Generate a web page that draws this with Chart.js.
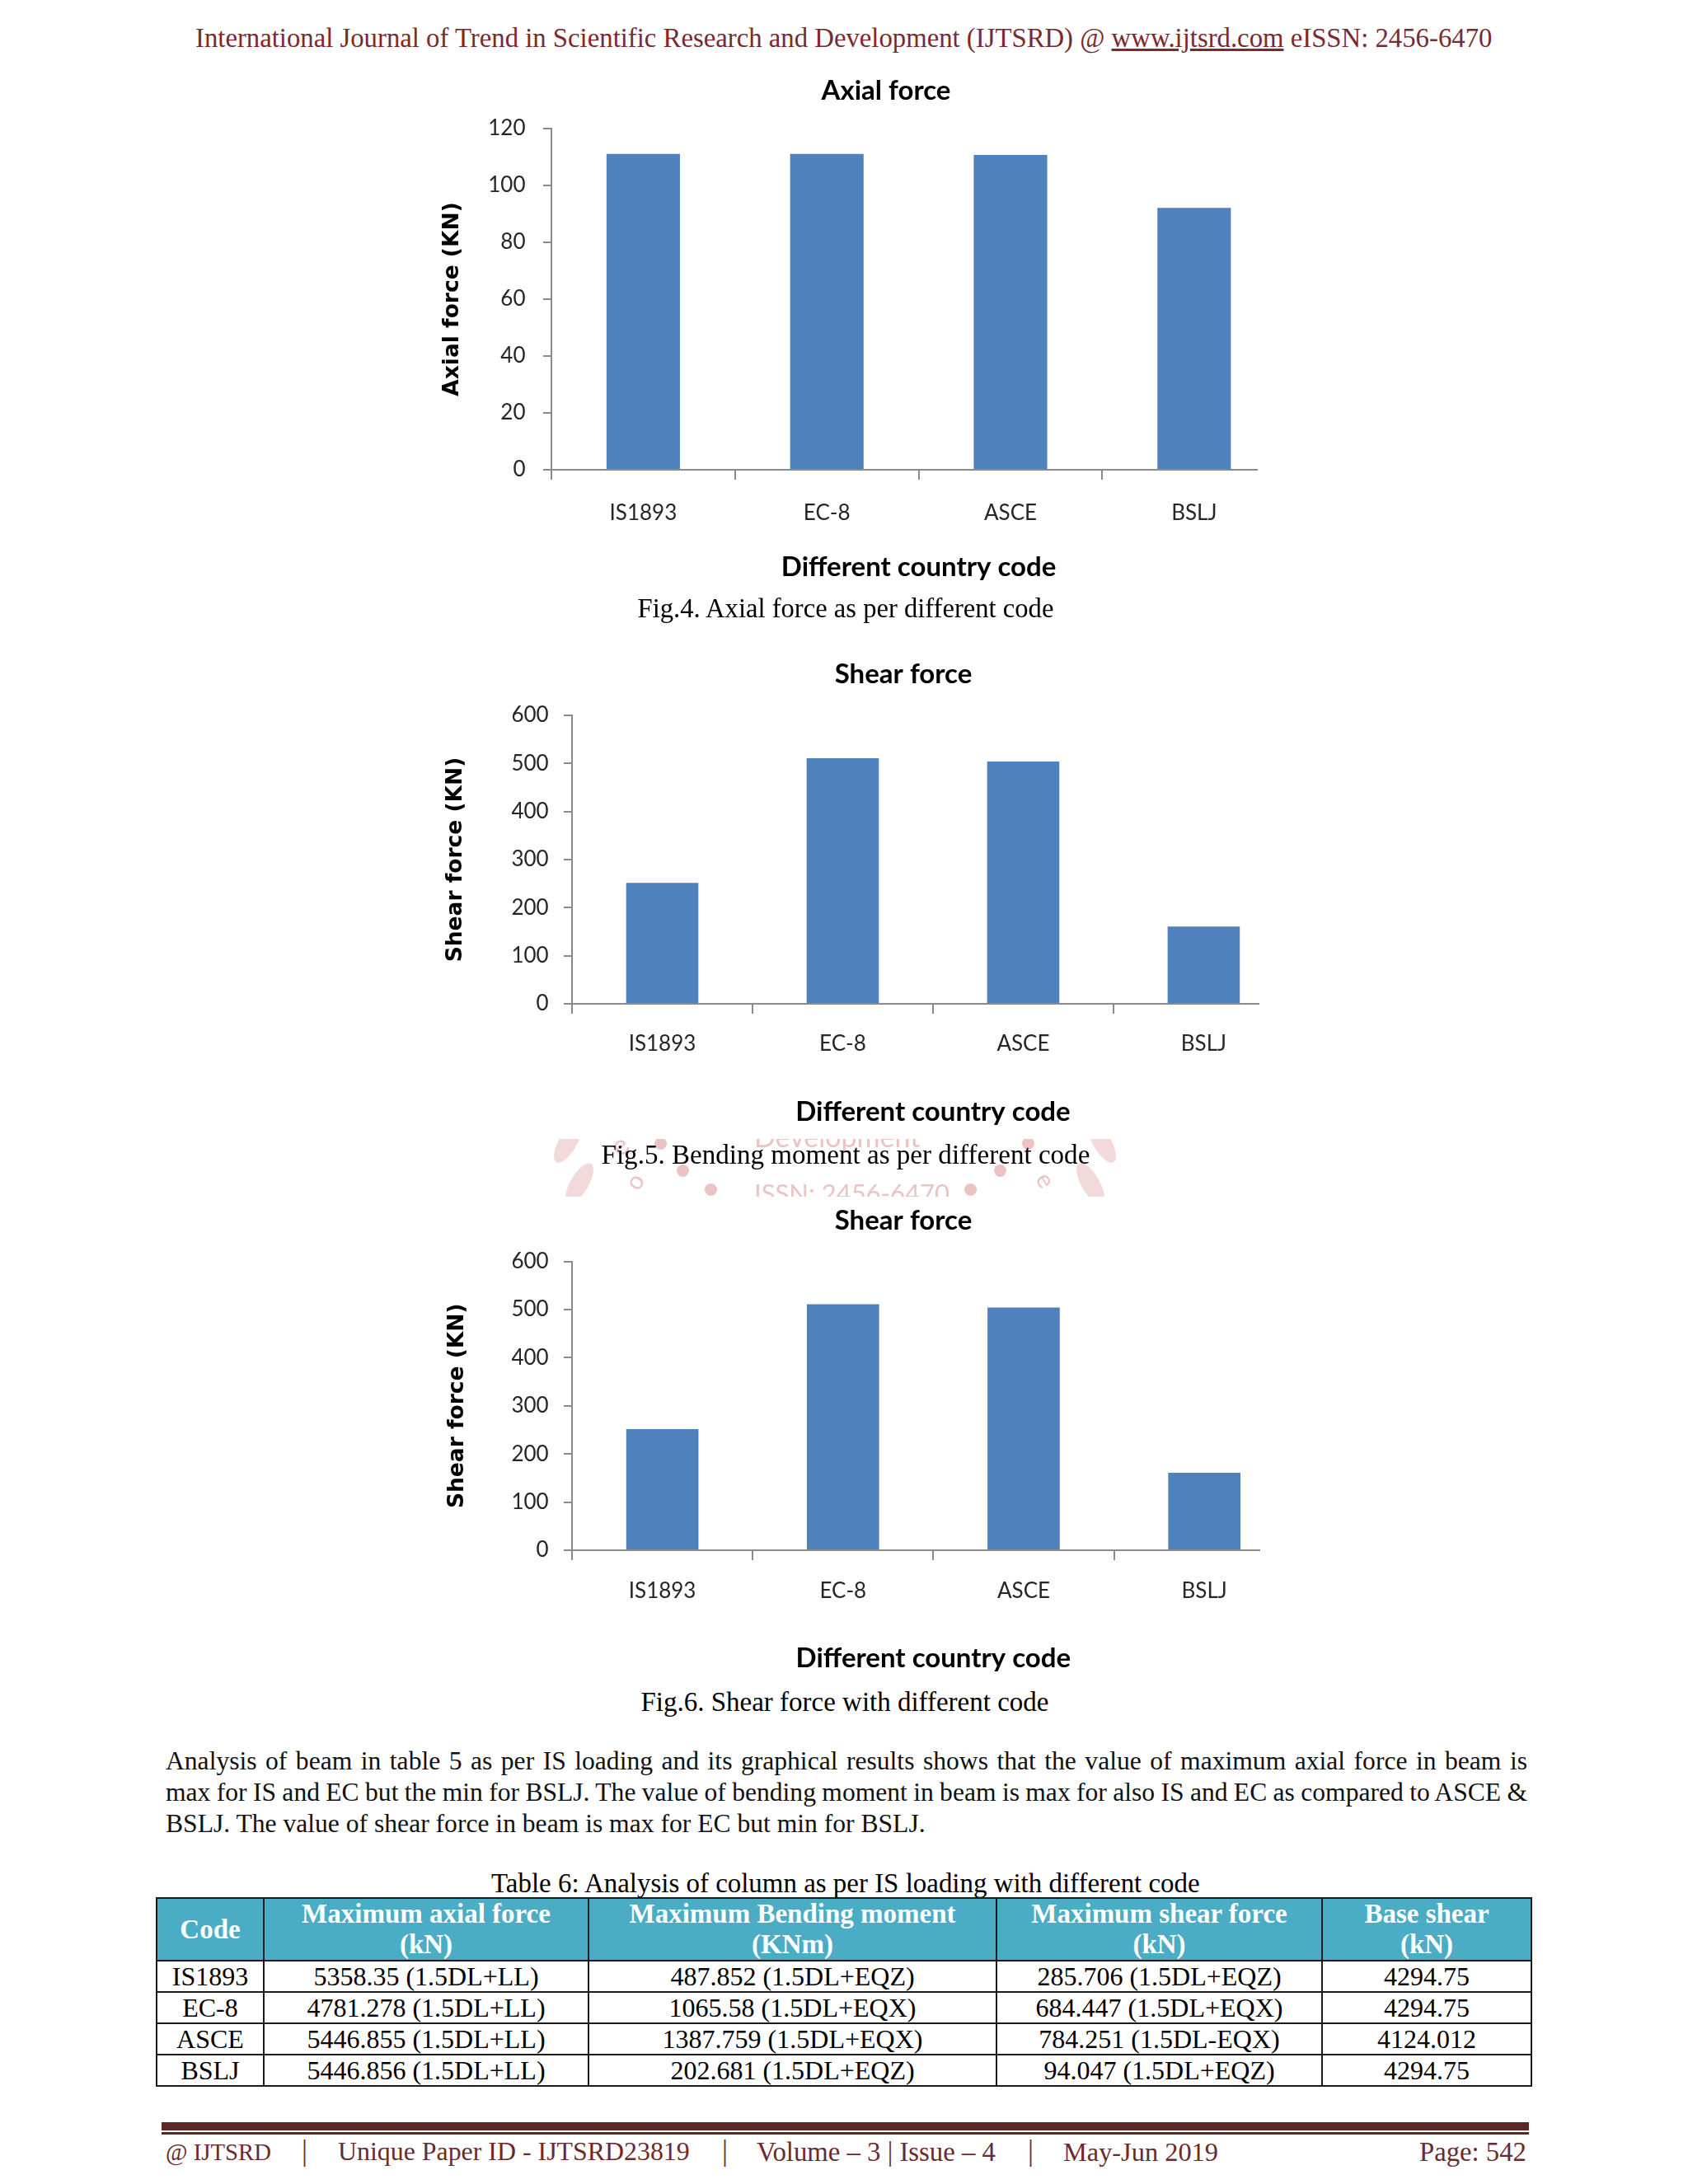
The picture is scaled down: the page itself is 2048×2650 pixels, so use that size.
<!DOCTYPE html>
<html>
<head>
<meta charset="utf-8">
<script src="https://cdn.jsdelivr.net/npm/chart.js@4.4.1/dist/chart.umd.min.js"></script>
<style>
  html, body { margin: 0; padding: 0; background: #fff; }
  #page { position: relative; width: 2048px; height: 2650px; overflow: hidden; font-family: 'Liberation Serif', serif; color: #000; }
  .t { position: absolute; white-space: nowrap; line-height: 1; }
  .hdr { color: #7a2a2e; }
  .ftr { color: #6b2a2c; }
  .just { position: absolute; white-space: nowrap; line-height: 1; font-size: 31.6px; color: #111; }
  canvas { position: absolute; }
  #wm { position: absolute; left: 650px; top: 1382px; width: 740px; height: 70px; overflow: hidden; color: #ebc3c3; font-family: Lato, sans-serif; }
  #wm div { position: absolute; line-height: 1; white-space: nowrap; }
  #wm .dot { width: 15px; height: 15px; border-radius: 50%; background: #ebc3c3; }
  #wm .sw { width: 22px; height: 56px; border-radius: 50%; background: #f3dada; }
  #tbl { position: absolute; left: 189px; top: 2302px; border-collapse: collapse; table-layout: fixed; font-size: 32px; }
  #tbl th, #tbl td { border: 2.5px solid #1b1b1b; padding: 0; text-align: center; white-space: nowrap; }
  #tbl th { background: #4BACC6; color: #fff; font-weight: bold; font-size: 33px; height: 73px; line-height: 37px; }
  #tbl td { height: 36px; line-height: 36px; }
  .rule { position: absolute; left: 196px; width: 1659px; background: #5c2627; }
</style>
</head>
<body>
<div id="page">
  <div class="t hdr fit" data-cx="1024" data-cy="48" data-w="1574">International Journal of Trend in Scientific Research and Development (IJTSRD) @ <u>www.ijtsrd.com</u> eISSN: 2456-6470</div>

  <canvas id="axialChart"></canvas>
  <div class="t fit" data-cx="1026" data-cy="740" data-w="505">Fig.4. Axial force as per different code</div>

  <canvas id="shearChart1"></canvas>
  <div id="wm">
    <div style="left:265px;top:-20px;font-size:34px;">Development</div>
    <div style="left:265px;top:50px;font-size:31px;">ISSN: 2456-6470</div>
    <div class="dot" style="left:144px;top:-2px;"></div>
    <div class="dot" style="left:171px;top:31px;"></div>
    <div class="dot" style="left:205px;top:54px;"></div>
    <div class="dot" style="left:590px;top:-2px;"></div>
    <div class="dot" style="left:556px;top:31px;"></div>
    <div class="dot" style="left:520px;top:54px;"></div>
    <div style="left:92px;top:-10px;font-size:34px;transform:rotate(-40deg);">e</div>
    <div style="left:110px;top:36px;font-size:30px;transform:rotate(-60deg);">o</div>
    <div style="left:612px;top:34px;font-size:30px;transform:rotate(60deg);">e</div>
    <div class="sw" style="left:28px;top:-24px;transform:rotate(30deg);"></div>
    <div class="sw" style="left:42px;top:26px;transform:rotate(30deg);"></div>
    <div class="sw" style="left:676px;top:-24px;transform:rotate(-30deg);"></div>
    <div class="sw" style="left:662px;top:26px;transform:rotate(-30deg);"></div>
  </div>
  <div class="t fit" data-cx="1026" data-cy="1404" data-w="593">Fig.5. Bending moment as per different code</div>

  <canvas id="shearChart2"></canvas>
  <div class="t fit" data-cx="1025" data-cy="2067" data-w="495">Fig.6. Shear force with different code</div>

  <div class="just" data-l="201" data-cy="2139" data-w="1652">Analysis of beam in table 5 as per IS loading and its graphical results shows that the value of maximum axial force in beam is</div>
  <div class="just" data-l="201" data-cy="2177" data-w="1652">max for IS and EC but the min for BSLJ. The value of bending moment in beam is max for also IS and EC as compared to ASCE &amp;</div>
  <div class="just" data-l="201" data-cy="2215">BSLJ. The value of shear force in beam is max for EC but min for BSLJ.</div>

  <div class="t fit" data-cx="1026" data-cy="2287" data-w="860">Table 6: Analysis of column as per IS loading with different code</div>
  <table id="tbl"></table>

  <div class="rule" style="top:2575px;height:10px;"></div>
  <div class="rule" style="top:2587px;height:2.5px;"></div>
  <div class="t ftr fit" data-l="201" data-cy="2613" data-w="128">@ IJTSRD</div>
  <div class="t ftr fit" data-l="366" data-cy="2613" data-w="7">|</div>
  <div class="t ftr fit" data-l="410" data-cy="2613" data-w="427">Unique Paper ID - IJTSRD23819</div>
  <div class="t ftr fit" data-l="876" data-cy="2613" data-w="7">|</div>
  <div class="t ftr fit" data-l="918" data-cy="2613" data-w="290">Volume – 3 | Issue – 4</div>
  <div class="t ftr fit" data-l="1247" data-cy="2613" data-w="7">|</div>
  <div class="t ftr fit" data-l="1290" data-cy="2613" data-w="188">May-Jun 2019</div>
  <div class="t ftr fit" data-l="1722" data-cy="2613" data-w="130">Page: 542</div>
</div>

<script>
// chart data
const codes = ['IS1893', 'EC-8', 'ASCE', 'BSLJ'];
const axialForce = [111.1, 111.1, 110.7, 92.1];
const shearForce = [251.6, 510.9, 504.0, 160.8];
const axialTicks = [0, 20, 40, 60, 80, 100, 120];
const shearTicks = [0, 100, 200, 300, 400, 500, 600];

// table 6
const tableHead = [['Code'], ['Maximum axial force', '(kN)'], ['Maximum Bending moment', '(KNm)'], ['Maximum shear force', '(kN)'], ['Base shear', '(kN)']];
const tableCodes = ['IS1893', 'EC-8', 'ASCE', 'BSLJ'];
const maxAxial = ['5358.35 (1.5DL+LL)', '4781.278 (1.5DL+LL)', '5446.855 (1.5DL+LL)', '5446.856 (1.5DL+LL)'];
const maxBending = ['487.852 (1.5DL+EQZ)', '1065.58 (1.5DL+EQX)', '1387.759 (1.5DL+EQX)', '202.681 (1.5DL+EQZ)'];
const maxShear = ['285.706 (1.5DL+EQZ)', '684.447 (1.5DL+EQX)', '784.251 (1.5DL-EQX)', '94.047 (1.5DL+EQZ)'];
const baseShear = ['4294.75', '4294.75', '4124.012', '4294.75'];
const colWidths = [130, 394, 495, 395, 254];

Chart.defaults.font.family = 'Lato';
const axisColor = '#8a8a8a';

// x title centred on the four categories (the axis line itself stops short)
const xTitlePlugin = {
  id: 'xTitle',
  afterDraw(chart, args, opts) {
    const { ctx, scales: { x } } = chart;
    ctx.save();
    ctx.font = 'bold 33px Lato';
    ctx.fillStyle = '#000';
    ctx.textAlign = 'center';
    ctx.textBaseline = 'middle';
    ctx.fillText(opts.text, x.getPixelForValue((codes.length - 1) / 2), chart.height - opts.bottom);
    ctx.restore();
  }
};

function makeBarChart(id, title, yTitle, values, ticks, L) {
  const canvas = document.getElementById(id);
  canvas.width = L.w;
  canvas.height = L.h;
  canvas.style.left = L.x + 'px';
  canvas.style.top = L.y + 'px';
  return new Chart(canvas, {
    type: 'bar',
    data: {
      datasets: [{
        data: values.map((v, i) => ({ x: i, y: v })),
        backgroundColor: '#4F81BD',
        borderWidth: 0,
        barPercentage: 0.4,
        categoryPercentage: 1
      }]
    },
    plugins: [xTitlePlugin],
    options: {
      responsive: false,
      animation: false,
      devicePixelRatio: 1,
      layout: { padding: 0 },
      plugins: {
        legend: { display: false },
        tooltip: { enabled: false },
        title: {
          display: true,
          text: title,
          color: '#000',
          font: { size: 33, weight: 'bold' },
          padding: { top: L.titleTop, bottom: L.titleBottom }
        },
        xTitle: { text: 'Different country code', bottom: L.xTitleBottom + 19.8 }
      },
      scales: {
        x: {
          type: 'linear',
          offset: false,
          min: -0.5,
          max: L.xMax,
          afterBuildTicks: s => { s.ticks = codes.map((c, i) => ({ value: i })); },
          grid: { offset: true, drawOnChartArea: false, tickLength: 12, color: axisColor, lineWidth: 2 },
          border: { color: axisColor, width: 2 },
          ticks: { color: '#262626', padding: L.xTickPad, maxRotation: 0, autoSkip: false, font: { size: 26 },
                   callback: v => codes[v] },
          afterFit: s => { s.height = L.xHeight; }
        },
        y: {
          min: ticks[0],
          max: ticks[ticks.length - 1],
          afterBuildTicks: s => { s.ticks = ticks.map(v => ({ value: v })); },
          grid: { drawOnChartArea: false, tickLength: 10, color: axisColor, lineWidth: 2 },
          border: { color: axisColor, width: 2 },
          ticks: { color: '#262626', padding: L.yTickPad, font: { size: 26 } },
          title: {
            display: true,
            text: yTitle,
            color: '#000',
            font: { family: 'DejaVu Sans', size: 26.5, weight: 'bold' },
            padding: { top: L.yTitleTop, bottom: 0 }
          },
          afterFit: s => { s.width = L.yWidth; }
        },
        yr: {
          position: 'right',
          grid: { display: false },
          border: { display: false },
          ticks: { display: false },
          afterFit: s => { s.width = L.rightWidth; }
        }
      }
    }
  });
}

makeBarChart('axialChart', 'Axial force', 'Axial force (KN)', axialForce, axialTicks, {
  x: 500, y: 80, w: 1150, h: 650, xMax: 3.342,
  titleTop: 10.2, titleBottom: 26.2,
  yWidth: 169, yTitleTop: 33.1, yTickPad: 21.5, rightWidth: 125,
  xHeight: 160, xTickPad: 25.4, xTitleBottom: 22.2
});

makeBarChart('shearChart1', 'Shear force', 'Shear force (KN)', shearForce, shearTicks, {
  x: 510, y: 780, w: 1172, h: 605, xMax: 3.304,
  titleTop: 18.2, titleBottom: 30.2,
  yWidth: 184, yTitleTop: 27.1, yTickPad: 18.3, rightWidth: 155,
  xHeight: 167, xTickPad: 20.9, xTitleBottom: 16.2
});

makeBarChart('shearChart2', 'Shear force', 'Shear force (KN)', shearForce, shearTicks, {
  x: 510, y: 1440, w: 1172, h: 605, xMax: 3.305,
  titleTop: 21.2, titleBottom: 29.7,
  yWidth: 184, yTitleTop: 29.1, yTickPad: 18.3, rightWidth: 154,
  xHeight: 164, xTickPad: 22.1, xTitleBottom: 13.2
});

// table
const tbl = document.getElementById('tbl');
let html = '<colgroup>' + colWidths.map(w => '<col style="width:' + w + 'px">').join('') + '</colgroup>';
html += '<tr>' + tableHead.map(h => '<th>' + h.join('<br>') + '</th>').join('') + '</tr>';
for (let i = 0; i < tableCodes.length; i++) {
  html += '<tr><td>' + tableCodes[i] + '</td><td>' + maxAxial[i] + '</td><td>' + maxBending[i] +
    '</td><td>' + maxShear[i] + '</td><td>' + baseShear[i] + '</td></tr>';
}
tbl.innerHTML = html;
tbl.style.width = colWidths.reduce((a, b) => a + b, 0) + 'px';

// size single line texts to their widths in the page
function layoutText() {
  document.querySelectorAll('.fit').forEach(el => {
    const w = +el.dataset.w;
    el.style.fontSize = '32px';
    const natural = el.getBoundingClientRect().width;
    const size = 32 * w / natural;
    el.style.fontSize = size + 'px';
    el.style.top = (+el.dataset.cy - size * 0.56) + 'px';
    el.style.left = (el.dataset.cx ? +el.dataset.cx - w / 2 : +el.dataset.l) + 'px';
  });
  document.querySelectorAll('.just').forEach(el => {
    el.style.left = el.dataset.l + 'px';
    el.style.top = (+el.dataset.cy - 31.6 * 0.56) + 'px';
    el.style.wordSpacing = '0px';
    if (el.dataset.w) {
      const natural = el.getBoundingClientRect().width;
      const spaces = el.textContent.split(' ').length - 1;
      el.style.wordSpacing = ((+el.dataset.w - natural) / spaces) + 'px';
    }
  });
}
layoutText();
document.fonts.ready.then(layoutText);
</script>
</body>
</html>
